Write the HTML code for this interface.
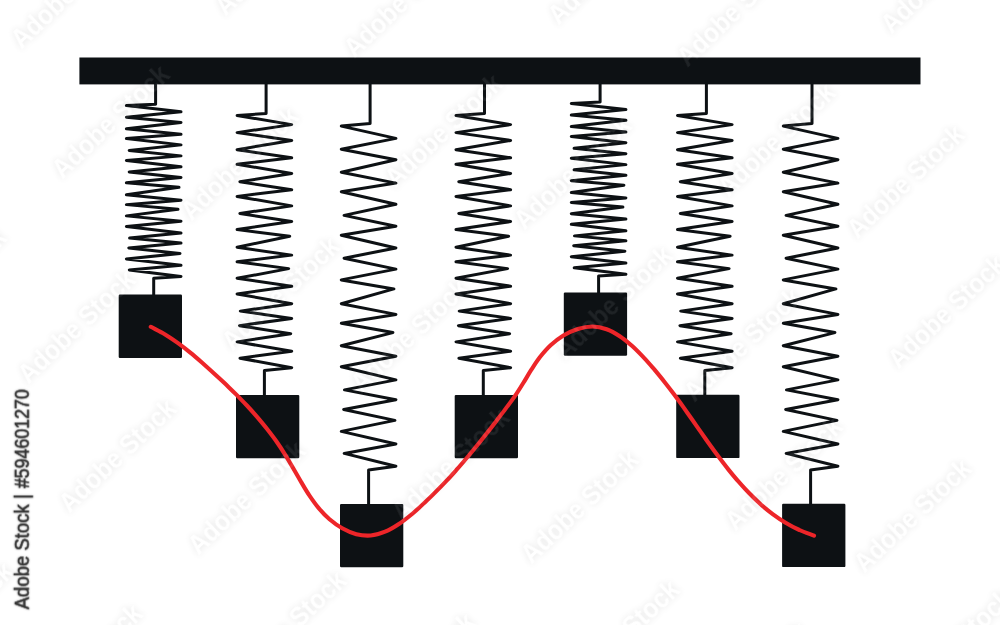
<!DOCTYPE html>
<html lang="en"><head><meta charset="utf-8"><title>Springs with masses - simple harmonic motion wave</title>
<style>
html,body{margin:0;padding:0;background:#fff;}
body{width:1000px;height:625px;overflow:hidden;position:relative;font-family:"Liberation Sans",sans-serif;}
svg{display:block;position:absolute;left:0;top:0;}
.wm{font-family:"Liberation Sans",sans-serif;font-weight:bold;font-size:28px;fill:#fff;filter:url(#wmf);}
.cap{font-family:"Liberation Sans",sans-serif;font-size:20px;fill:#333;stroke:#333;stroke-width:.5px;filter:url(#capf);}
</style></head><body>
<svg width="1000" height="625" viewBox="0 0 1000 625">
<defs>
<filter id="wmf" x="-10%" y="-70%" width="120%" height="240%" color-interpolation-filters="sRGB">
<feGaussianBlur in="SourceAlpha" stdDeviation="3.5" result="b"/>
<feComposite in="b" in2="SourceAlpha" operator="out" result="halo"/>
<feComponentTransfer in="halo" result="h"><feFuncA type="linear" slope="0.105"/></feComponentTransfer>
<feComponentTransfer in="SourceGraphic" result="t"><feFuncA type="linear" slope="0.075"/></feComponentTransfer>
<feMerge><feMergeNode in="h"/><feMergeNode in="t"/></feMerge>
</filter>
<filter id="capf" x="-5%" y="-40%" width="110%" height="180%" color-interpolation-filters="sRGB">
<feGaussianBlur in="SourceAlpha" stdDeviation="1.3" result="b"/>
<feComponentTransfer in="b" result="h"><feFuncA type="linear" slope="0.35"/></feComponentTransfer>
<feMerge><feMergeNode in="h"/><feMergeNode in="SourceGraphic"/></feMerge>
</filter>
</defs>
<rect width="1000" height="625" fill="#fff"/>
<rect x="79.4" y="57.5" width="841.1" height="26.9" fill="#0d1114"/>
<g fill="none" stroke="#0d1114" stroke-width="3" stroke-linejoin="round" stroke-linecap="butt">
<path d="M155.60 82.40 L155.60 104.24 L126.40 105.60 L181.00 111.78 L126.40 117.20 L181.00 122.47 L126.40 128.75 L181.00 134.23 L126.40 138.59 L181.00 144.87 L129.20 150.45 L181.00 155.87 L126.40 160.39 L181.00 166.82 L129.20 171.94 L181.00 177.42 L126.40 182.84 L179.00 187.36 L126.40 194.79 L181.00 200.17 L126.40 204.63 L178.00 209.31 L126.40 215.88 L181.00 221.21 L126.40 226.48 L181.00 233.06 L129.60 238.08 L181.00 243.00 L128.80 247.92 L180.00 253.40 L126.40 258.92 L181.00 265.25 L129.30 269.97 L181.00 276.40 L153.70 278.31 L153.70 296.60"/>
<path d="M266.10 82.40 L266.10 113.50 L237.10 115.50 L291.70 124.62 L237.10 132.63 L291.70 140.42 L237.10 149.69 L291.70 157.77 L237.10 164.22 L291.70 173.49 L239.90 181.72 L291.70 189.73 L237.10 196.40 L291.70 205.89 L239.90 213.46 L291.70 221.54 L237.10 229.55 L289.70 236.22 L237.10 247.20 L291.70 255.13 L237.10 261.73 L288.70 268.63 L237.10 278.34 L291.70 286.20 L237.10 293.99 L291.70 303.70 L240.30 311.12 L291.70 318.39 L239.50 325.65 L290.70 333.74 L237.10 341.89 L291.70 351.24 L240.00 358.21 L291.70 367.70 L264.40 370.52 L264.40 396.60"/>
<path d="M370.10 82.40 L370.10 123.40 L341.30 126.10 L395.90 138.40 L341.30 149.20 L395.90 159.70 L341.30 172.20 L395.90 183.10 L341.30 191.80 L395.90 204.30 L344.10 215.40 L395.90 226.20 L341.30 235.20 L395.90 248.00 L344.10 258.20 L395.90 269.10 L341.30 279.90 L393.90 288.90 L341.30 303.70 L395.90 314.40 L341.30 323.30 L392.90 332.60 L341.30 345.70 L395.90 356.30 L341.30 366.80 L395.90 379.90 L344.50 389.90 L395.90 399.70 L343.70 409.50 L394.90 420.40 L341.30 431.40 L395.90 444.00 L344.20 453.40 L395.90 466.20 L368.60 470.00 L368.60 506.40"/>
<path d="M484.50 82.40 L484.50 113.50 L456.00 115.50 L510.60 124.62 L456.00 132.63 L510.60 140.42 L456.00 149.69 L510.60 157.77 L456.00 164.22 L510.60 173.49 L458.80 181.72 L510.60 189.73 L456.00 196.40 L510.60 205.89 L458.80 213.46 L510.60 221.54 L456.00 229.55 L508.60 236.22 L456.00 247.20 L510.60 255.13 L456.00 261.73 L507.60 268.63 L456.00 278.34 L510.60 286.20 L456.00 293.99 L510.60 303.70 L459.20 311.12 L510.60 318.39 L458.40 325.65 L509.60 333.74 L456.00 341.89 L510.60 351.24 L458.90 358.21 L510.60 367.70 L483.30 370.52 L483.30 396.60"/>
<path d="M600.10 82.40 L600.10 102.04 L571.30 103.40 L625.90 109.58 L571.30 115.00 L625.90 120.27 L571.30 126.55 L625.90 132.03 L571.30 136.39 L625.90 142.67 L574.10 148.25 L625.90 153.67 L571.30 158.19 L625.90 164.62 L574.10 169.74 L625.90 175.22 L571.30 180.64 L623.90 185.16 L571.30 192.59 L625.90 197.97 L571.30 202.43 L622.90 207.11 L571.30 213.68 L625.90 219.01 L571.30 224.28 L625.90 230.86 L574.50 235.88 L625.90 240.80 L573.70 245.72 L624.90 251.20 L571.30 256.72 L625.90 263.05 L574.20 267.77 L625.90 274.20 L598.60 276.11 L598.60 294.70"/>
<path d="M706.40 82.40 L706.40 113.50 L677.50 115.50 L732.10 124.62 L677.50 132.63 L732.10 140.42 L677.50 149.69 L732.10 157.77 L677.50 164.22 L732.10 173.49 L680.30 181.72 L732.10 189.73 L677.50 196.40 L732.10 205.89 L680.30 213.46 L732.10 221.54 L677.50 229.55 L730.10 236.22 L677.50 247.20 L732.10 255.13 L677.50 261.73 L729.10 268.63 L677.50 278.34 L732.10 286.20 L677.50 293.99 L732.10 303.70 L680.70 311.12 L732.10 318.39 L679.90 325.65 L731.10 333.74 L677.50 341.89 L732.10 351.24 L680.40 358.21 L732.10 367.70 L704.80 370.52 L704.80 396.60"/>
<path d="M812.00 82.40 L812.00 123.40 L783.30 126.10 L837.90 138.40 L783.30 149.20 L837.90 159.70 L783.30 172.20 L837.90 183.10 L783.30 191.80 L837.90 204.30 L786.10 215.40 L837.90 226.20 L783.30 235.20 L837.90 248.00 L786.10 258.20 L837.90 269.10 L783.30 279.90 L835.90 288.90 L783.30 303.70 L837.90 314.40 L783.30 323.30 L834.90 332.60 L783.30 345.70 L837.90 356.30 L783.30 366.80 L837.90 379.90 L786.50 389.90 L837.90 399.70 L785.70 409.50 L836.90 420.40 L783.30 431.40 L837.90 444.00 L786.20 453.40 L837.90 466.20 L810.60 470.00 L810.60 506.20"/>
</g>
<g fill="#0d1114">
<rect x="118.7" y="294.6" width="63.3" height="63.3" rx="1.2"/>
<rect x="236.0" y="394.9" width="63.3" height="63.3" rx="1.2"/>
<rect x="340.0" y="503.9" width="63.3" height="63.3" rx="1.2"/>
<rect x="454.7" y="394.9" width="63.3" height="63.3" rx="1.2"/>
<rect x="563.8" y="292.5" width="63.3" height="63.3" rx="1.2"/>
<rect x="676.2" y="394.8" width="63.3" height="63.3" rx="1.2"/>
<rect x="782.1" y="503.8" width="63.3" height="63.3" rx="1.2"/>
</g>
<path d="M150.8 326.8 C153.1 328.1 160.2 331.6 164.7 334.2 C169.1 336.9 173.4 339.8 177.7 342.9 C181.9 345.9 186.0 349.1 190.0 352.4 C194.1 355.7 198.0 359.1 201.9 362.5 C205.8 366.0 209.7 369.5 213.5 373.0 C217.4 376.5 221.2 380.0 225.0 383.6 C228.7 387.2 232.4 390.7 236.1 394.4 C239.7 398.1 243.4 401.8 246.9 405.5 C250.4 409.3 253.9 413.1 257.3 417.1 C260.6 421.0 263.9 424.9 267.1 429.0 C270.3 433.1 273.5 437.2 276.5 441.5 C279.5 445.8 282.3 450.1 285.1 454.6 C287.9 459.1 290.6 463.7 293.2 468.3 C295.9 472.9 298.4 477.6 301.2 482.1 C303.9 486.7 306.5 491.3 309.5 495.6 C312.4 499.9 315.4 504.2 318.7 508.1 C322.1 512.1 325.6 515.9 329.5 519.3 C333.4 522.6 337.7 525.8 342.2 528.3 C346.7 530.8 351.5 533.0 356.3 534.2 C361.1 535.4 366.0 535.9 370.8 535.5 C375.6 535.1 380.4 533.6 385.1 531.7 C389.8 529.8 394.4 527.0 398.9 524.0 C403.4 521.1 407.8 517.5 412.1 514.0 C416.3 510.5 420.4 506.6 424.3 502.9 C428.3 499.3 432.0 495.6 435.7 491.9 C439.4 488.2 442.9 484.6 446.4 480.9 C449.9 477.2 453.2 473.5 456.6 469.7 C459.9 466.0 463.2 462.1 466.5 458.2 C469.8 454.3 473.1 450.3 476.4 446.2 C479.7 442.2 483.0 438.0 486.2 433.9 C489.5 429.8 492.8 425.6 496.0 421.4 C499.2 417.2 502.4 413.1 505.5 408.9 C508.7 404.7 511.8 400.6 514.7 396.4 C517.7 392.1 520.4 387.7 523.1 383.3 C525.9 378.9 528.4 374.3 531.2 369.9 C534.0 365.6 536.8 361.1 540.0 357.0 C543.3 353.0 546.7 348.9 550.6 345.3 C554.5 341.8 558.9 338.4 563.4 335.6 C568.0 332.9 572.9 330.5 577.8 329.0 C582.6 327.5 587.7 326.5 592.5 326.5 C597.3 326.6 602.0 327.6 606.6 329.2 C611.1 330.8 615.5 333.4 619.8 336.2 C624.1 339.0 628.2 342.5 632.2 346.1 C636.2 349.7 640.0 353.7 643.8 357.6 C647.5 361.5 651.0 365.6 654.5 369.6 C657.9 373.7 661.3 377.8 664.5 381.9 C667.8 386.0 670.9 390.1 674.0 394.3 C677.1 398.5 680.2 402.7 683.2 406.9 C686.2 411.1 689.1 415.3 692.1 419.5 C695.0 423.7 698.0 428.0 700.9 432.2 C703.9 436.4 706.8 440.6 709.8 444.8 C712.8 449.0 715.9 453.2 719.0 457.3 C722.1 461.4 725.3 465.6 728.5 469.6 C731.8 473.7 735.1 477.8 738.6 481.7 C742.1 485.7 745.6 489.6 749.3 493.3 C753.0 497.1 756.7 500.7 760.6 504.2 C764.5 507.7 768.6 511.0 772.7 514.1 C776.9 517.2 781.2 520.2 785.6 522.8 C790.0 525.5 794.6 527.9 799.4 530.0 C804.1 532.2 811.6 534.6 814.0 535.6" fill="none" stroke="#ed2529" stroke-width="4.1" stroke-linecap="round" stroke-linejoin="round"/>
<g text-anchor="middle">
<text class="wm" transform="translate(-87 488) rotate(-43.5)" y="10" textLength="150" lengthAdjust="spacingAndGlyphs">Adobe Stock</text>
<text class="wm" transform="translate(-46 618) rotate(-43.5)" y="10" textLength="150" lengthAdjust="spacingAndGlyphs">Adobe Stock</text>
<text class="wm" transform="translate(83 660) rotate(-43.5)" y="10" textLength="150" lengthAdjust="spacingAndGlyphs">Adobe Stock</text>
<text class="wm" transform="translate(-53 284) rotate(-43.5)" y="10" textLength="150" lengthAdjust="spacingAndGlyphs">Adobe Stock</text>
<text class="wm" transform="translate(76 326) rotate(-43.5)" y="10" textLength="150" lengthAdjust="spacingAndGlyphs">Adobe Stock</text>
<text class="wm" transform="translate(117 455) rotate(-43.5)" y="10" textLength="150" lengthAdjust="spacingAndGlyphs">Adobe Stock</text>
<text class="wm" transform="translate(246 497) rotate(-43.5)" y="10" textLength="150" lengthAdjust="spacingAndGlyphs">Adobe Stock</text>
<text class="wm" transform="translate(287 627) rotate(-43.5)" y="10" textLength="150" lengthAdjust="spacingAndGlyphs">Adobe Stock</text>
<text class="wm" transform="translate(416 669) rotate(-43.5)" y="10" textLength="150" lengthAdjust="spacingAndGlyphs">Adobe Stock</text>
<text class="wm" transform="translate(-60 -51) rotate(-43.5)" y="10" textLength="150" lengthAdjust="spacingAndGlyphs">Adobe Stock</text>
<text class="wm" transform="translate(69 -9) rotate(-43.5)" y="10" textLength="150" lengthAdjust="spacingAndGlyphs">Adobe Stock</text>
<text class="wm" transform="translate(110 121) rotate(-43.5)" y="10" textLength="150" lengthAdjust="spacingAndGlyphs">Adobe Stock</text>
<text class="wm" transform="translate(239 163) rotate(-43.5)" y="10" textLength="150" lengthAdjust="spacingAndGlyphs">Adobe Stock</text>
<text class="wm" transform="translate(280 293) rotate(-43.5)" y="10" textLength="150" lengthAdjust="spacingAndGlyphs">Adobe Stock</text>
<text class="wm" transform="translate(409 335) rotate(-43.5)" y="10" textLength="150" lengthAdjust="spacingAndGlyphs">Adobe Stock</text>
<text class="wm" transform="translate(450 464) rotate(-43.5)" y="10" textLength="150" lengthAdjust="spacingAndGlyphs">Adobe Stock</text>
<text class="wm" transform="translate(579 506) rotate(-43.5)" y="10" textLength="150" lengthAdjust="spacingAndGlyphs">Adobe Stock</text>
<text class="wm" transform="translate(620 636) rotate(-43.5)" y="10" textLength="150" lengthAdjust="spacingAndGlyphs">Adobe Stock</text>
<text class="wm" transform="translate(749 678) rotate(-43.5)" y="10" textLength="150" lengthAdjust="spacingAndGlyphs">Adobe Stock</text>
<text class="wm" transform="translate(273 -42) rotate(-43.5)" y="10" textLength="150" lengthAdjust="spacingAndGlyphs">Adobe Stock</text>
<text class="wm" transform="translate(402 0) rotate(-43.5)" y="10" textLength="150" lengthAdjust="spacingAndGlyphs">Adobe Stock</text>
<text class="wm" transform="translate(443 130) rotate(-43.5)" y="10" textLength="150" lengthAdjust="spacingAndGlyphs">Adobe Stock</text>
<text class="wm" transform="translate(572 172) rotate(-43.5)" y="10" textLength="150" lengthAdjust="spacingAndGlyphs">Adobe Stock</text>
<text class="wm" transform="translate(613 302) rotate(-43.5)" y="10" textLength="150" lengthAdjust="spacingAndGlyphs">Adobe Stock</text>
<text class="wm" transform="translate(742 344) rotate(-43.5)" y="10" textLength="150" lengthAdjust="spacingAndGlyphs">Adobe Stock</text>
<text class="wm" transform="translate(783 473) rotate(-43.5)" y="10" textLength="150" lengthAdjust="spacingAndGlyphs">Adobe Stock</text>
<text class="wm" transform="translate(912 515) rotate(-43.5)" y="10" textLength="150" lengthAdjust="spacingAndGlyphs">Adobe Stock</text>
<text class="wm" transform="translate(953 645) rotate(-43.5)" y="10" textLength="150" lengthAdjust="spacingAndGlyphs">Adobe Stock</text>
<text class="wm" transform="translate(1082 687) rotate(-43.5)" y="10" textLength="150" lengthAdjust="spacingAndGlyphs">Adobe Stock</text>
<text class="wm" transform="translate(606 -33) rotate(-43.5)" y="10" textLength="150" lengthAdjust="spacingAndGlyphs">Adobe Stock</text>
<text class="wm" transform="translate(735 9) rotate(-43.5)" y="10" textLength="150" lengthAdjust="spacingAndGlyphs">Adobe Stock</text>
<text class="wm" transform="translate(776 139) rotate(-43.5)" y="10" textLength="150" lengthAdjust="spacingAndGlyphs">Adobe Stock</text>
<text class="wm" transform="translate(905 181) rotate(-43.5)" y="10" textLength="150" lengthAdjust="spacingAndGlyphs">Adobe Stock</text>
<text class="wm" transform="translate(946 311) rotate(-43.5)" y="10" textLength="150" lengthAdjust="spacingAndGlyphs">Adobe Stock</text>
<text class="wm" transform="translate(1075 353) rotate(-43.5)" y="10" textLength="150" lengthAdjust="spacingAndGlyphs">Adobe Stock</text>
<text class="wm" transform="translate(939 -24) rotate(-43.5)" y="10" textLength="150" lengthAdjust="spacingAndGlyphs">Adobe Stock</text>
<text class="wm" transform="translate(1068 18) rotate(-43.5)" y="10" textLength="150" lengthAdjust="spacingAndGlyphs">Adobe Stock</text>
</g>
<text class="cap" transform="translate(28.8 609.4) rotate(-90)"><tspan x="0" textLength="105" lengthAdjust="spacingAndGlyphs">Adobe Stock</tspan><tspan x="112.9" text-anchor="middle"> | </tspan><tspan x="121.2" textLength="98.9" lengthAdjust="spacingAndGlyphs">#594601270</tspan></text>
</svg>
</body></html>
